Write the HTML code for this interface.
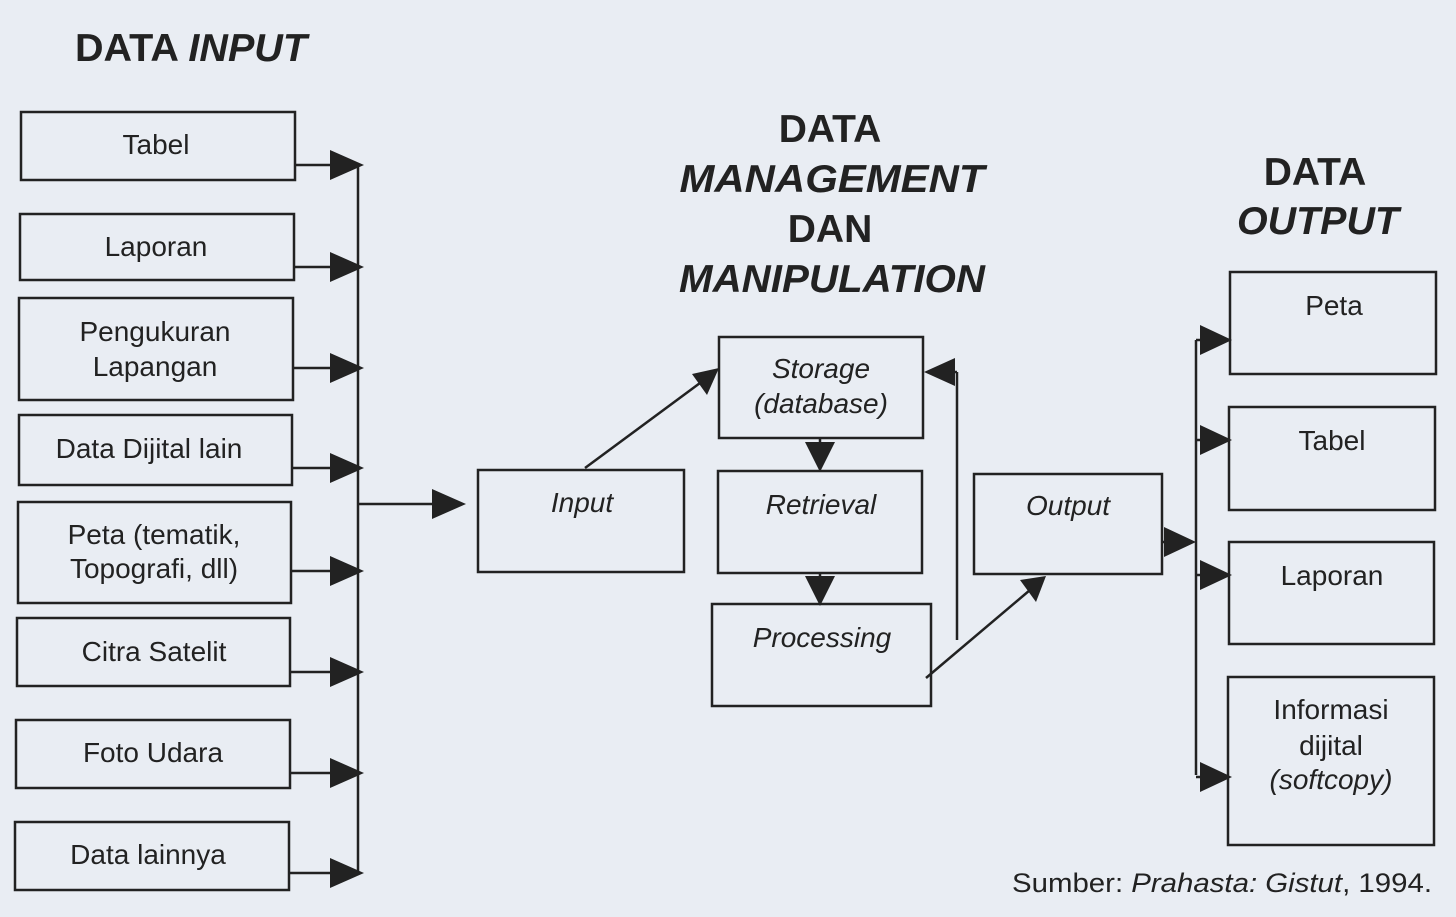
<!DOCTYPE html>
<html><head><meta charset="utf-8"><style>
html,body{margin:0;padding:0;background:#e9edf3;}
svg{display:block;}
text{font-family:"Liberation Sans",Arial,sans-serif;fill:#222;}
.t{font-size:28px;text-anchor:middle;}
.h{font-size:39px;font-weight:bold;text-anchor:middle;}
</style></head><body>
<svg width="1456" height="917" viewBox="0 0 1456 917" xmlns="http://www.w3.org/2000/svg">
<rect width="1456" height="917" fill="#e9edf3"/>
<g fill="none" stroke="#222" stroke-width="2.5">
<rect x="21" y="112" width="274" height="68"/>
<rect x="20" y="214" width="274" height="66"/>
<rect x="19" y="298" width="274" height="102"/>
<rect x="19" y="415" width="273" height="70"/>
<rect x="18" y="502" width="273" height="101"/>
<rect x="17" y="618" width="273" height="68"/>
<rect x="16" y="720" width="274" height="68"/>
<rect x="15" y="822" width="274" height="68"/>
<line x1="358" y1="165" x2="358" y2="875"/>
<line x1="295" y1="165" x2="335" y2="165"/>
<line x1="294" y1="267" x2="335" y2="267"/>
<line x1="293" y1="368" x2="335" y2="368"/>
<line x1="292" y1="468" x2="335" y2="468"/>
<line x1="291" y1="571" x2="335" y2="571"/>
<line x1="290" y1="672" x2="335" y2="672"/>
<line x1="290" y1="773" x2="335" y2="773"/>
<line x1="289" y1="873" x2="335" y2="873"/>
<line x1="358" y1="504" x2="435" y2="504"/>
<rect x="478" y="470" width="206" height="102"/>
<rect x="719" y="337" width="204" height="101"/>
<rect x="718" y="471" width="204" height="102"/>
<rect x="712" y="604" width="219" height="102"/>
<line x1="585" y1="468" x2="700" y2="383"/>
<line x1="820" y1="438" x2="820" y2="448"/>
<line x1="820" y1="573" x2="820" y2="582"/>
<line x1="957" y1="640" x2="957" y2="372"/>
<line x1="957" y1="372" x2="950" y2="372"/>
<line x1="926" y1="678" x2="1030" y2="590"/>
<rect x="974" y="474" width="188" height="100"/>
<line x1="1162" y1="542" x2="1170" y2="542"/>
<line x1="1196" y1="340" x2="1196" y2="775"/>
<line x1="1196" y1="340" x2="1202" y2="340"/>
<line x1="1196" y1="440" x2="1202" y2="440"/>
<line x1="1196" y1="575" x2="1202" y2="575"/>
<line x1="1196" y1="777" x2="1202" y2="777"/>
<rect x="1230" y="272" width="206" height="102"/>
<rect x="1229" y="407" width="206" height="103"/>
<rect x="1229" y="542" width="205" height="102"/>
<rect x="1228" y="677" width="206" height="168"/>
</g>
<g fill="#222">
<polygon points="330,150 364,165 330,180"/>
<polygon points="330,252 364,267 330,282"/>
<polygon points="330,353 364,368 330,383"/>
<polygon points="330,453 364,468 330,483"/>
<polygon points="330,556 364,571 330,586"/>
<polygon points="330,657 364,672 330,687"/>
<polygon points="330,758 364,773 330,788"/>
<polygon points="330,858 364,873 330,888"/>
<polygon points="432,489 466,504 432,519"/>
<polygon points="692,374 719,368 707,395"/>
<polygon points="805,442 835,442 820,472"/>
<polygon points="805,576 835,576 820,606"/>
<polygon points="955,358 955,386 924,372"/>
<polygon points="1020,580 1046,576 1036,602"/>
<polygon points="1164,527 1196,542 1164,557"/>
<polygon points="1200,325 1232,340 1200,355"/>
<polygon points="1200,425 1232,440 1200,455"/>
<polygon points="1200,560 1232,575 1200,590"/>
<polygon points="1200,762 1232,777 1200,792"/>
</g>
<text x="75" y="61" style="font-size:39px;font-weight:bold" textLength="232" lengthAdjust="spacingAndGlyphs">DATA <tspan font-style="italic">INPUT</tspan></text>
<text class="h" x="830" y="142">DATA</text>
<text class="h" x="832" y="192" font-style="italic" textLength="305" lengthAdjust="spacingAndGlyphs">MANAGEMENT</text>
<text class="h" x="830" y="242">DAN</text>
<text class="h" x="832" y="292" font-style="italic" textLength="306" lengthAdjust="spacingAndGlyphs">MANIPULATION</text>
<text class="h" x="1315" y="185">DATA</text>
<text class="h" x="1318" y="234" font-style="italic" textLength="162" lengthAdjust="spacingAndGlyphs">OUTPUT</text>
<text class="t" x="156" y="154">Tabel</text>
<text class="t" x="156" y="256">Laporan</text>
<text class="t" x="155" y="341">Pengukuran</text>
<text class="t" x="155" y="376">Lapangan</text>
<text class="t" x="149" y="458">Data Dijital lain</text>
<text class="t" x="154" y="544">Peta (tematik,</text>
<text class="t" x="154" y="578">Topografi, dll)</text>
<text class="t" x="154" y="661">Citra Satelit</text>
<text class="t" x="153" y="762">Foto Udara</text>
<text class="t" x="148" y="864">Data lainnya</text>
<text class="t" x="582" y="512" font-style="italic">Input</text>
<text class="t" x="821" y="378" font-style="italic">Storage</text>
<text class="t" x="821" y="413" font-style="italic">(database)</text>
<text class="t" x="821" y="514" font-style="italic">Retrieval</text>
<text class="t" x="822" y="647" font-style="italic">Processing</text>
<text class="t" x="1068" y="515" font-style="italic">Output</text>
<text class="t" x="1334" y="315">Peta</text>
<text class="t" x="1332" y="450">Tabel</text>
<text class="t" x="1332" y="585">Laporan</text>
<text class="t" x="1331" y="719">Informasi</text>
<text class="t" x="1331" y="755">dijital</text>
<text class="t" x="1331" y="789" font-style="italic">(softcopy)</text>
<text x="1012" y="892" style="font-size:27px" textLength="420" lengthAdjust="spacingAndGlyphs">Sumber: <tspan font-style="italic">Prahasta: Gistut</tspan>, 1994.</text>
</svg>
</body></html>
